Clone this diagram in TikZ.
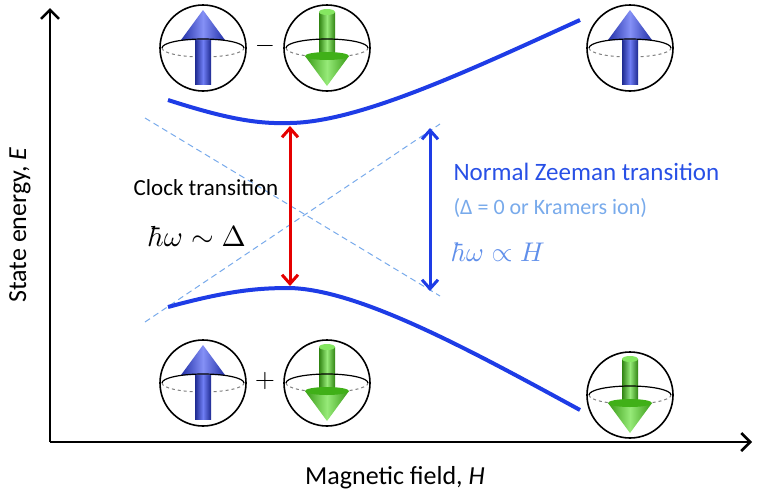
\documentclass[tikz,border=0pt]{standalone}
\usepackage{fontspec}
\usepackage{graphicx}
\setmainfont{Carlito}
\usetikzlibrary{arrows.meta}
\definecolor{cblue}{RGB}{30,60,230}
\definecolor{tblue}{RGB}{40,80,230}
\definecolor{lblue}{RGB}{120,170,235}
\definecolor{aup}{RGB}{50,70,240}
\definecolor{adn}{RGB}{80,220,30}
\newcommand{\spinball}[3]{% x y dir
\begin{scope}[shift={(#1,#2)}]
\draw[gray,dashed,line width=1pt] (-41,0) arc (180:0:41 and 9);
\ifnum#3=1
\shade[left color=aup!60!black,right color=aup!60!black,middle color=aup!70!white] (-8,36) rectangle (8,-8);
\shade[left color=aup!70!black,right color=aup!70!black,middle color=aup!60!white] (-22,-8) -- (0,-38) -- (22,-8) -- cycle;
\else
\shade[left color=adn!60!black,right color=adn!60!black,middle color=adn!60!white] (-8,-36) rectangle (8,8);
\fill[adn!70!white] (0,-36) ellipse (8 and 3);
\shade[left color=adn!70!black,right color=adn!70!black,middle color=adn!60!white] (-22,8) -- (0,38) -- (22,8) -- cycle;
\fill[adn!80!black] (0,8) ellipse (22 and 4);
\fi
\draw[black,line width=1.2pt] (-41,0) arc (180:360:41 and 9);
\draw[black,line width=1.6pt] (0,0) circle (43);
\end{scope}}
\begin{document}
\begin{tikzpicture}[x=1pt,y=-1pt,
 curve/.style={cblue,line width=4pt},
 asym/.style={lblue,dashed,line width=1pt,dash pattern=on 6pt off 4pt},
 ax/.style={black,line width=2.5pt,-{Straight Barb[length=9pt,width=18pt]}}]
\useasboundingbox (0,0) rectangle (783,501);
\coordinate (o) at (50,442);
\coordinate (ytop) at (50,8);
\coordinate (xend) at (752,442);
\draw[ax] (o) -- (ytop);
\draw[ax] (o) -- (xend);
\node[rotate=90,font=\fontsize{26}{30}\selectfont] (yl) at (20,225) {State energy, \textit{E}};
\node[font=\fontsize{26}{30}\selectfont] (xl) at (395,478) {Magnetic field, \textit{H}};
\coordinate (a1) at (145,118); \coordinate (a2) at (440,296);
\coordinate (b1) at (145,322); \coordinate (b2) at (440,124);
\draw[asym] (a1) -- (a2);
\draw[asym] (b1) -- (b2);
\draw[curve] (168,100) .. controls (230,120) and (260,124) .. (290,123) .. controls (360,122) and (470,70) .. (580,20);
\draw[curve] (168,307) .. controls (230,290) and (260,288) .. (290,288) .. controls (360,290) and (470,350) .. (580,410);
\coordinate (r1) at (290,126); \coordinate (r2) at (290,286);
\draw[red!90!black,line width=3pt,{Straight Barb[length=9pt,width=16pt]}-{Straight Barb[length=9pt,width=16pt]}] (r1) -- (r2);
\coordinate (z1) at (430,128); \coordinate (z2) at (430,291);
\draw[cblue,line width=3pt,{Straight Barb[length=9pt,width=16pt]}-{Straight Barb[length=9pt,width=16pt]}] (z1) -- (z2);
\node[font=\fontsize{23}{28}\selectfont] (ct) at (206,188) {Clock transition};
\node (cf) at (198,236) {\scalebox{2.9}{$\hbar\omega\sim\Delta$}};
\node[anchor=west,text=tblue,font=\fontsize{25}{30}\selectfont] (nz) at (450,172) {Normal Zeeman transition};
\node[anchor=west,text=lblue,font=\fontsize{22}{26}\selectfont] (nk) at (450,208) {(Δ = 0 or Kramers ion)};
\node[anchor=west,text=lblue!70!tblue] (nf) at (450,252) {\scalebox{2.7}{$\hbar\omega\propto H$}};
\spinball{203}{48}{1}
\spinball{327}{48}{-1}
\spinball{630}{48}{1}
\spinball{203}{383}{1}
\spinball{327}{383}{-1}
\spinball{630}{395}{-1}
\node (mi) at (265,46) {\scalebox{2.6}{$-$}};
\node (pl) at (265,381) {\scalebox{2.6}{$+$}};
\end{tikzpicture}
\end{document}
